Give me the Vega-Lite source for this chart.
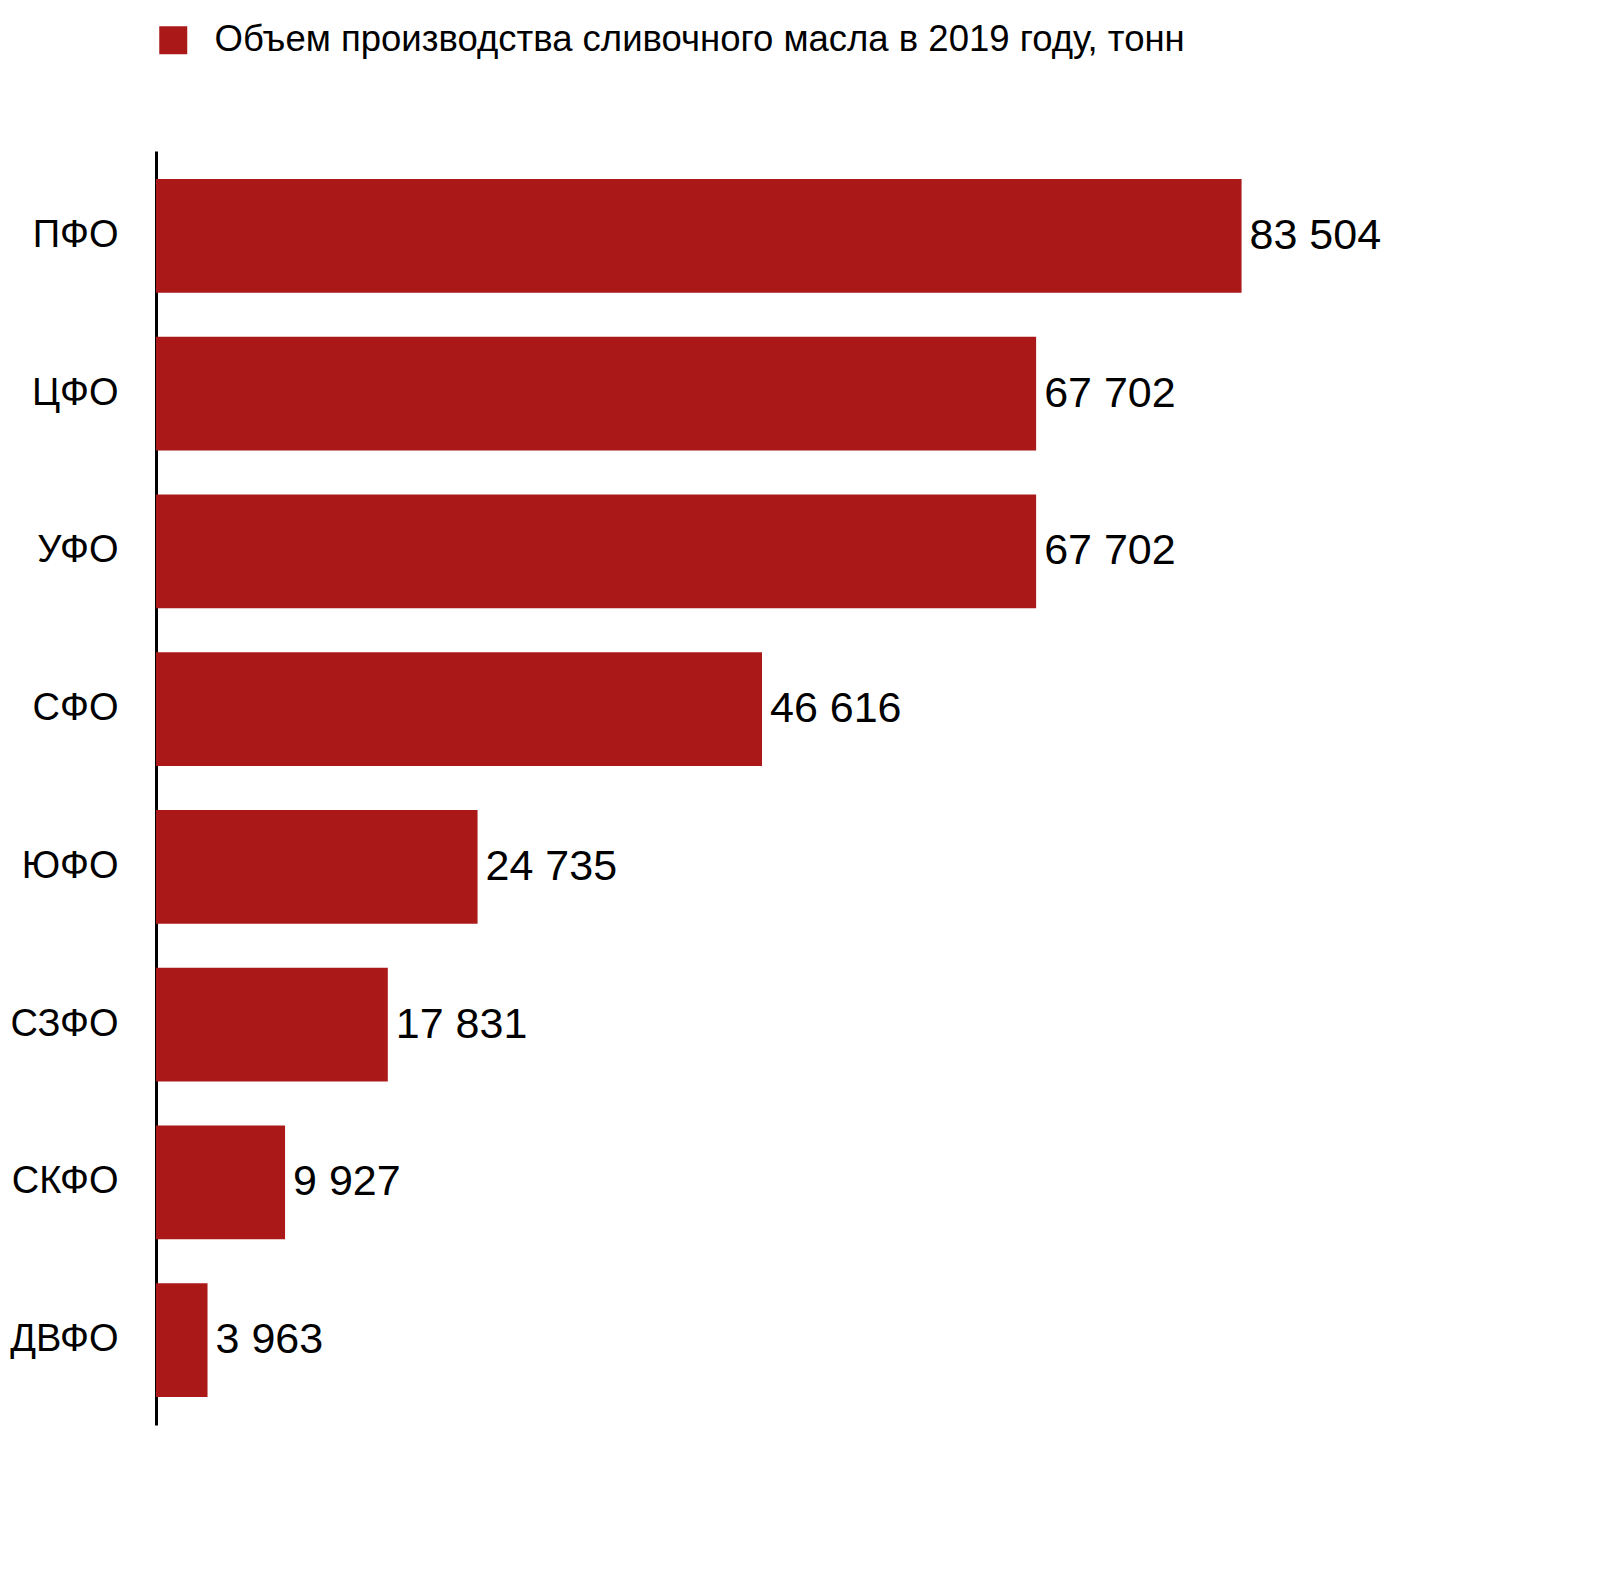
{
  "$schema": "https://vega.github.io/schema/vega-lite/v6.json",
  "autosize": {"type": "none"},
  "padding": {"left": 156, "top": 151, "right": 144, "bottom": 162},
  "width": 1300,
  "height": 1274,
  "background": "white",
  "config": {
    "font": "Liberation Sans",
    "view": {"stroke": null},
    "locale": {"number": {"decimal": ",", "thousands": " ", "grouping": [3], "currency": ["", ""]}}
  },
  "data": {
    "values": [
      {"region": "ПФО", "value": 83504, "series": "Объем производства сливочного масла в 2019 году, тонн"},
      {"region": "ЦФО", "value": 67702, "series": "Объем производства сливочного масла в 2019 году, тонн"},
      {"region": "УФО", "value": 67702, "series": "Объем производства сливочного масла в 2019 году, тонн"},
      {"region": "СФО", "value": 46616, "series": "Объем производства сливочного масла в 2019 году, тонн"},
      {"region": "ЮФО", "value": 24735, "series": "Объем производства сливочного масла в 2019 году, тонн"},
      {"region": "СЗФО", "value": 17831, "series": "Объем производства сливочного масла в 2019 году, тонн"},
      {"region": "СКФО", "value": 9927, "series": "Объем производства сливочного масла в 2019 году, тонн"},
      {"region": "ДВФО", "value": 3963, "series": "Объем производства сливочного масла в 2019 году, тонн"}
    ]
  },
  "encoding": {
    "y": {
      "field": "region",
      "type": "nominal",
      "sort": null,
      "scale": {"paddingInner": 0.28, "paddingOuter": 0.178},
      "axis": {
        "title": null,
        "ticks": false,
        "tickSize": 0,
        "labelPadding": 38,
        "labelFontSize": 38,
        "labelColor": "#000000",
        "labelFont": "Liberation Sans",
        "domainColor": "#000000",
        "domainWidth": 3,
        "grid": false
      }
    },
    "x": {
      "field": "value",
      "type": "quantitative",
      "scale": {"domain": [0, 100000], "nice": false},
      "axis": null
    }
  },
  "layer": [
    {
      "mark": {"type": "bar"},
      "encoding": {
        "color": {
          "field": "series",
          "type": "nominal",
          "scale": {"range": ["#AA1818"]},
          "legend": {
            "title": null,
            "orient": "none",
            "legendX": -1,
            "legendY": -129,
            "padding": 0,
            "symbolType": "square",
            "symbolSize": 784,
            "symbolStrokeWidth": 0,
            "symbolOpacity": 1,
            "labelFontSize": 36.5,
            "labelFont": "Liberation Sans",
            "labelColor": "#000000",
            "labelLimit": 2000,
            "labelOffset": 23
          }
        }
      }
    },
    {
      "mark": {"type": "text", "align": "left", "baseline": "middle", "dx": 8, "fontSize": 43, "font": "Liberation Sans", "color": "#000000"},
      "encoding": {
        "text": {"field": "value", "type": "quantitative", "format": ",d"}
      }
    }
  ]
}
